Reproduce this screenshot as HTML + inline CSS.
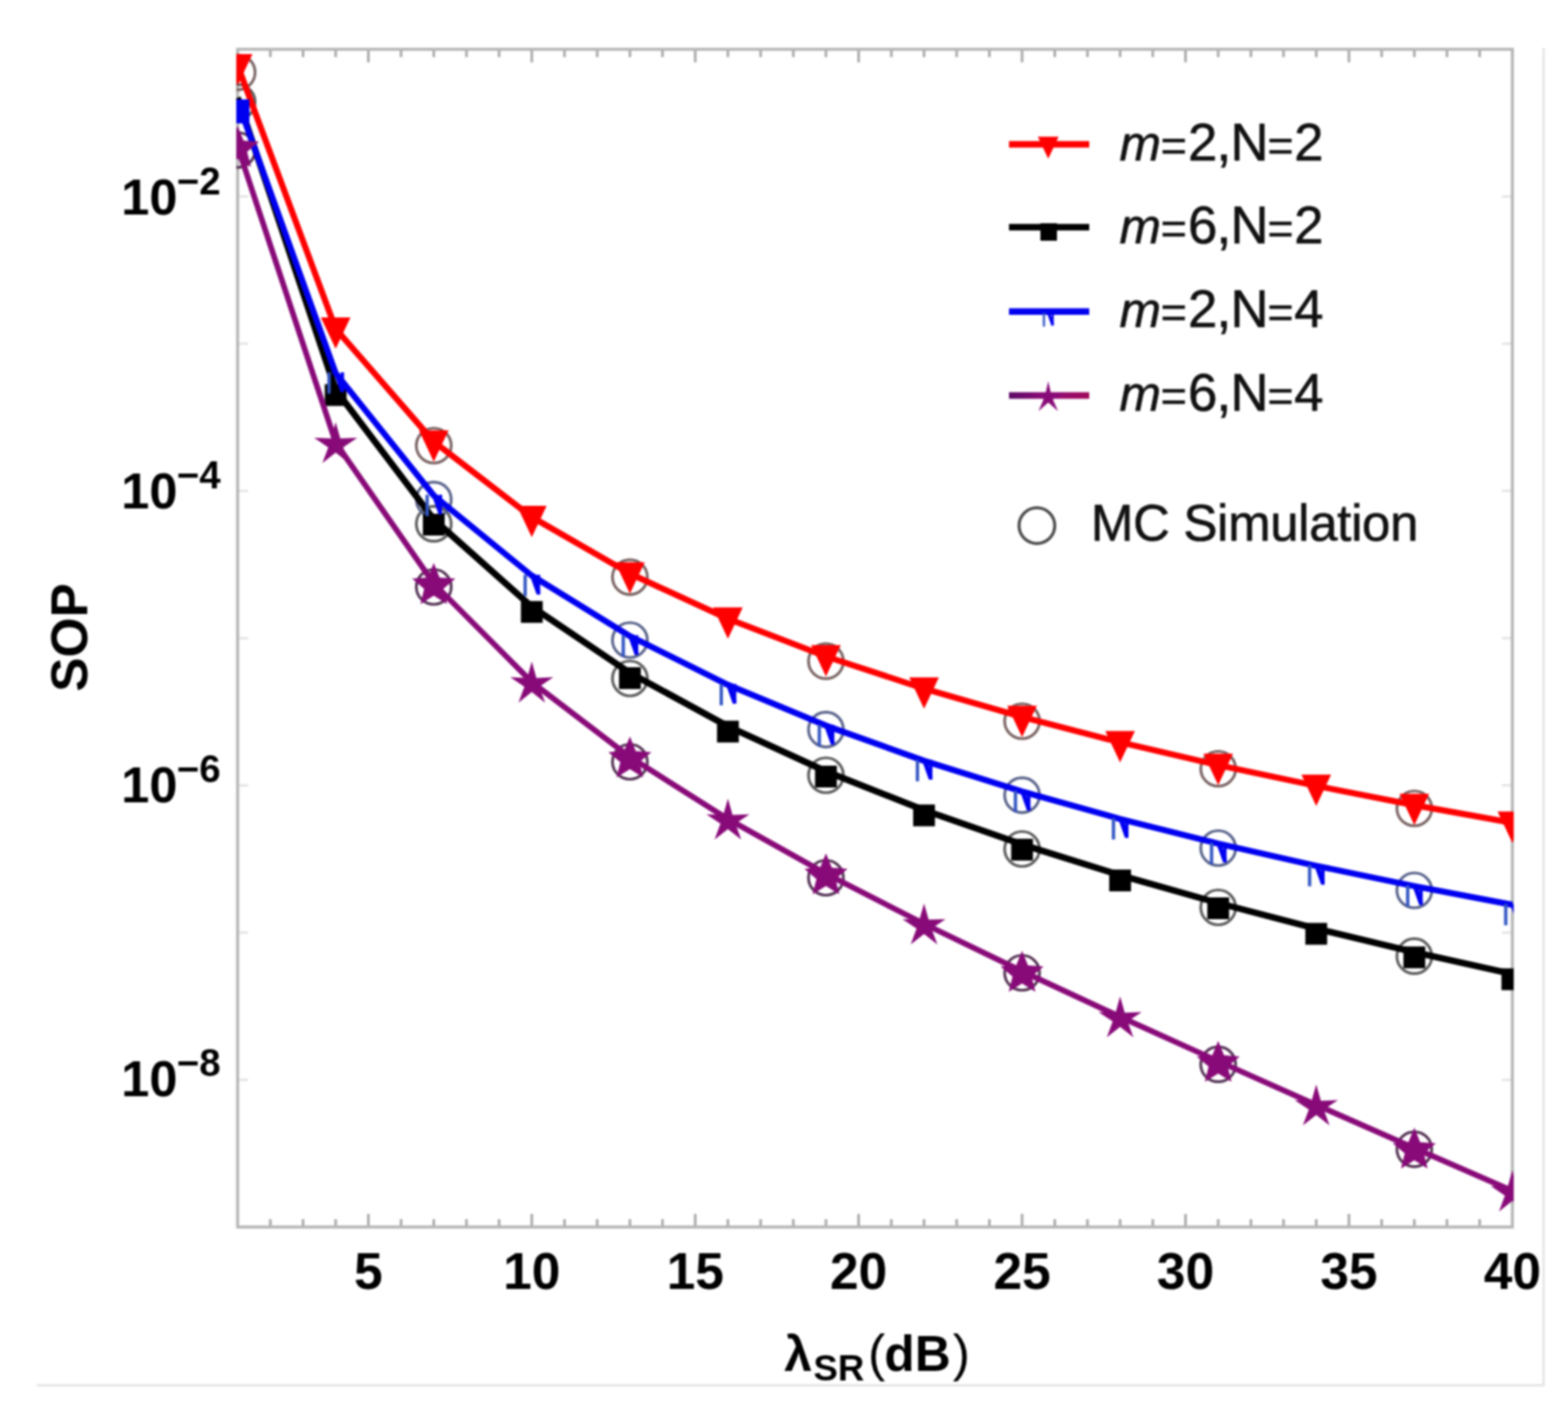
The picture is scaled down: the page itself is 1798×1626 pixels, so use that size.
<!DOCTYPE html><html><head><meta charset="utf-8"><title>SOP vs lambda_SR</title><style>html,body{margin:0;padding:0;background:#fff;}body{width:1798px;height:1626px;overflow:hidden;}svg{display:block;}#w{filter:blur(1px);width:1798px;height:1626px;}text{font-family:"Liberation Sans",Arial,Helvetica,sans-serif;}</style></head><body><div id="w"><svg width="1798" height="1626" viewBox="0 0 1798 1626"><rect width="1798" height="1626" fill="#fff"/><defs><linearGradient id="pg" gradientUnits="userSpaceOnUse" x1="1157" y1="0" x2="1249" y2="0"><stop offset="0" stop-color="#5a0a66"/><stop offset="0.5" stop-color="#930a78"/><stop offset="1" stop-color="#a00a5a"/></linearGradient><clipPath id="pa"><rect x="271.0" y="56.5" width="1464.7" height="1350.5"/></clipPath></defs><g stroke="#e3e3e3" stroke-width="2.5" fill="none"><line x1="42" y1="1588.5" x2="1771" y2="1588.5"/><line x1="1770" y1="55" x2="1770" y2="1589"/></g><g stroke="#a9a9a9" stroke-width="3"><line x1="310.0" y1="1407.0" x2="310.0" y2="1398.0"/><line x1="310.0" y1="56.5" x2="310.0" y2="65.5"/><line x1="347.5" y1="1407.0" x2="347.5" y2="1398.0"/><line x1="347.5" y1="56.5" x2="347.5" y2="65.5"/><line x1="384.9" y1="1407.0" x2="384.9" y2="1398.0"/><line x1="384.9" y1="56.5" x2="384.9" y2="65.5"/><line x1="422.4" y1="1407.0" x2="422.4" y2="1392.0"/><line x1="422.4" y1="56.5" x2="422.4" y2="71.5"/><line x1="459.9" y1="1407.0" x2="459.9" y2="1398.0"/><line x1="459.9" y1="56.5" x2="459.9" y2="65.5"/><line x1="497.4" y1="1407.0" x2="497.4" y2="1398.0"/><line x1="497.4" y1="56.5" x2="497.4" y2="65.5"/><line x1="534.9" y1="1407.0" x2="534.9" y2="1398.0"/><line x1="534.9" y1="56.5" x2="534.9" y2="65.5"/><line x1="572.3" y1="1407.0" x2="572.3" y2="1398.0"/><line x1="572.3" y1="56.5" x2="572.3" y2="65.5"/><line x1="609.8" y1="1407.0" x2="609.8" y2="1392.0"/><line x1="609.8" y1="56.5" x2="609.8" y2="71.5"/><line x1="647.3" y1="1407.0" x2="647.3" y2="1398.0"/><line x1="647.3" y1="56.5" x2="647.3" y2="65.5"/><line x1="684.8" y1="1407.0" x2="684.8" y2="1398.0"/><line x1="684.8" y1="56.5" x2="684.8" y2="65.5"/><line x1="722.3" y1="1407.0" x2="722.3" y2="1398.0"/><line x1="722.3" y1="56.5" x2="722.3" y2="65.5"/><line x1="759.7" y1="1407.0" x2="759.7" y2="1398.0"/><line x1="759.7" y1="56.5" x2="759.7" y2="65.5"/><line x1="797.2" y1="1407.0" x2="797.2" y2="1392.0"/><line x1="797.2" y1="56.5" x2="797.2" y2="71.5"/><line x1="834.7" y1="1407.0" x2="834.7" y2="1398.0"/><line x1="834.7" y1="56.5" x2="834.7" y2="65.5"/><line x1="872.2" y1="1407.0" x2="872.2" y2="1398.0"/><line x1="872.2" y1="56.5" x2="872.2" y2="65.5"/><line x1="909.7" y1="1407.0" x2="909.7" y2="1398.0"/><line x1="909.7" y1="56.5" x2="909.7" y2="65.5"/><line x1="947.1" y1="1407.0" x2="947.1" y2="1398.0"/><line x1="947.1" y1="56.5" x2="947.1" y2="65.5"/><line x1="984.6" y1="1407.0" x2="984.6" y2="1392.0"/><line x1="984.6" y1="56.5" x2="984.6" y2="71.5"/><line x1="1022.1" y1="1407.0" x2="1022.1" y2="1398.0"/><line x1="1022.1" y1="56.5" x2="1022.1" y2="65.5"/><line x1="1059.6" y1="1407.0" x2="1059.6" y2="1398.0"/><line x1="1059.6" y1="56.5" x2="1059.6" y2="65.5"/><line x1="1097.0" y1="1407.0" x2="1097.0" y2="1398.0"/><line x1="1097.0" y1="56.5" x2="1097.0" y2="65.5"/><line x1="1134.5" y1="1407.0" x2="1134.5" y2="1398.0"/><line x1="1134.5" y1="56.5" x2="1134.5" y2="65.5"/><line x1="1172.0" y1="1407.0" x2="1172.0" y2="1392.0"/><line x1="1172.0" y1="56.5" x2="1172.0" y2="71.5"/><line x1="1209.5" y1="1407.0" x2="1209.5" y2="1398.0"/><line x1="1209.5" y1="56.5" x2="1209.5" y2="65.5"/><line x1="1247.0" y1="1407.0" x2="1247.0" y2="1398.0"/><line x1="1247.0" y1="56.5" x2="1247.0" y2="65.5"/><line x1="1284.4" y1="1407.0" x2="1284.4" y2="1398.0"/><line x1="1284.4" y1="56.5" x2="1284.4" y2="65.5"/><line x1="1321.9" y1="1407.0" x2="1321.9" y2="1398.0"/><line x1="1321.9" y1="56.5" x2="1321.9" y2="65.5"/><line x1="1359.4" y1="1407.0" x2="1359.4" y2="1392.0"/><line x1="1359.4" y1="56.5" x2="1359.4" y2="71.5"/><line x1="1396.9" y1="1407.0" x2="1396.9" y2="1398.0"/><line x1="1396.9" y1="56.5" x2="1396.9" y2="65.5"/><line x1="1434.4" y1="1407.0" x2="1434.4" y2="1398.0"/><line x1="1434.4" y1="56.5" x2="1434.4" y2="65.5"/><line x1="1471.8" y1="1407.0" x2="1471.8" y2="1398.0"/><line x1="1471.8" y1="56.5" x2="1471.8" y2="65.5"/><line x1="1509.3" y1="1407.0" x2="1509.3" y2="1398.0"/><line x1="1509.3" y1="56.5" x2="1509.3" y2="65.5"/><line x1="1546.8" y1="1407.0" x2="1546.8" y2="1392.0"/><line x1="1546.8" y1="56.5" x2="1546.8" y2="71.5"/><line x1="1584.3" y1="1407.0" x2="1584.3" y2="1398.0"/><line x1="1584.3" y1="56.5" x2="1584.3" y2="65.5"/><line x1="1621.8" y1="1407.0" x2="1621.8" y2="1398.0"/><line x1="1621.8" y1="56.5" x2="1621.8" y2="65.5"/><line x1="1659.2" y1="1407.0" x2="1659.2" y2="1398.0"/><line x1="1659.2" y1="56.5" x2="1659.2" y2="65.5"/><line x1="1696.7" y1="1407.0" x2="1696.7" y2="1398.0"/><line x1="1696.7" y1="56.5" x2="1696.7" y2="65.5"/></g><g stroke="#e2e2e2" stroke-width="2.5"><line x1="272.5" y1="225.3" x2="284.5" y2="225.3"/><line x1="1734.2" y1="225.3" x2="1722.2" y2="225.3"/><line x1="272.5" y1="394.1" x2="284.5" y2="394.1"/><line x1="1734.2" y1="394.1" x2="1722.2" y2="394.1"/><line x1="272.5" y1="562.9" x2="284.5" y2="562.9"/><line x1="1734.2" y1="562.9" x2="1722.2" y2="562.9"/><line x1="272.5" y1="731.8" x2="284.5" y2="731.8"/><line x1="1734.2" y1="731.8" x2="1722.2" y2="731.8"/><line x1="272.5" y1="900.6" x2="284.5" y2="900.6"/><line x1="1734.2" y1="900.6" x2="1722.2" y2="900.6"/><line x1="272.5" y1="1069.4" x2="284.5" y2="1069.4"/><line x1="1734.2" y1="1069.4" x2="1722.2" y2="1069.4"/><line x1="272.5" y1="1238.2" x2="284.5" y2="1238.2"/><line x1="1734.2" y1="1238.2" x2="1722.2" y2="1238.2"/></g><rect x="272.5" y="56.5" width="1461.7" height="1350.5" fill="none" stroke="#b6b6b6" stroke-width="3.5"/><g clip-path="url(#pa)"><g fill="none" stroke="#7a6262" stroke-width="3.2"><circle cx="272.5" cy="83.0" r="20"/><circle cx="497.4" cy="511.0" r="20"/><circle cx="722.3" cy="661.8" r="20"/><circle cx="947.1" cy="758.2" r="20"/><circle cx="1172.0" cy="827.0" r="20"/><circle cx="1396.9" cy="881.5" r="20"/><circle cx="1621.8" cy="927.0" r="20"/></g><g fill="none" stroke="#5c5c5c" stroke-width="3.2"><circle cx="272.5" cy="117.0" r="20"/><circle cx="497.4" cy="600.7" r="20"/><circle cx="722.3" cy="778.0" r="20"/><circle cx="947.1" cy="889.0" r="20"/><circle cx="1172.0" cy="973.5" r="20"/><circle cx="1396.9" cy="1040.5" r="20"/><circle cx="1621.8" cy="1096.4" r="20"/></g><g fill="none" stroke="#58628a" stroke-width="3.2"><circle cx="497.4" cy="572.8" r="20"/><circle cx="722.3" cy="734.0" r="20"/><circle cx="947.1" cy="836.6" r="20"/><circle cx="1172.0" cy="911.8" r="20"/><circle cx="1396.9" cy="972.5" r="20"/><circle cx="1621.8" cy="1021.0" r="20"/></g><g fill="none" stroke="#553355" stroke-width="3.2"><circle cx="272.5" cy="172.0" r="20"/><circle cx="497.4" cy="673.0" r="20"/><circle cx="722.3" cy="873.5" r="20"/><circle cx="947.1" cy="1006.5" r="20"/><circle cx="1172.0" cy="1115.5" r="20"/><circle cx="1396.9" cy="1220.4" r="20"/><circle cx="1621.8" cy="1317.8" r="20"/></g><path d="M272.5,75.0 L384.9,377.0 L497.4,506.4 L609.8,592.9 L722.3,657.7 L834.7,709.5 L947.1,752.7 L1059.6,789.7 L1172.0,822.2 L1284.4,851.2 L1396.9,877.3 L1509.3,901.2 L1621.8,923.2 L1734.2,943.5" fill="none" stroke="#ff0000" stroke-width="7" stroke-linejoin="round"/><g fill="#ff0000"><polygon points="255.5,62.0 289.5,62.0 272.5,98.0"/><polygon points="367.9,364.0 401.9,364.0 384.9,400.0"/><polygon points="480.4,493.4 514.4,493.4 497.4,529.4"/><polygon points="592.8,579.9 626.8,579.9 609.8,615.9"/><polygon points="705.3,644.7 739.3,644.7 722.3,680.7"/><polygon points="817.7,696.5 851.7,696.5 834.7,732.5"/><polygon points="930.1,739.7 964.1,739.7 947.1,775.7"/><polygon points="1042.6,776.7 1076.6,776.7 1059.6,812.7"/><polygon points="1155.0,809.2 1189.0,809.2 1172.0,845.2"/><polygon points="1267.4,838.2 1301.4,838.2 1284.4,874.2"/><polygon points="1379.9,864.3 1413.9,864.3 1396.9,900.3"/><polygon points="1492.3,888.2 1526.3,888.2 1509.3,924.2"/><polygon points="1604.8,910.2 1638.8,910.2 1621.8,946.2"/><polygon points="1717.2,930.5 1751.2,930.5 1734.2,966.5"/></g><path d="M272.5,112.0 L384.9,447.0 L497.4,595.6 L609.8,695.7 L722.3,771.6 L834.7,832.9 L947.1,884.5 L1059.6,929.0 L1172.0,968.3 L1284.4,1003.6 L1396.9,1035.5 L1509.3,1064.8 L1621.8,1091.8 L1734.2,1116.9" fill="none" stroke="#000000" stroke-width="7.5" stroke-linejoin="round"/><g fill="#000000"><rect x="372.4" y="440.5" width="25.0" height="25.0"/><rect x="484.9" y="589.1" width="25.0" height="25.0"/><rect x="597.3" y="689.2" width="25.0" height="25.0"/><rect x="709.8" y="765.1" width="25.0" height="25.0"/><rect x="822.2" y="826.4" width="25.0" height="25.0"/><rect x="934.6" y="878.0" width="25.0" height="25.0"/><rect x="1047.1" y="922.5" width="25.0" height="25.0"/><rect x="1159.5" y="961.8" width="25.0" height="25.0"/><rect x="1271.9" y="997.1" width="25.0" height="25.0"/><rect x="1384.4" y="1029.0" width="25.0" height="25.0"/><rect x="1496.8" y="1058.3" width="25.0" height="25.0"/><rect x="1609.3" y="1085.3" width="25.0" height="25.0"/><rect x="1721.7" y="1110.4" width="25.0" height="25.0"/></g><path d="M272.5,116.0 L384.9,427.9 L497.4,568.3 L609.8,660.1 L722.3,729.4 L834.7,785.3 L947.1,832.1 L1059.6,872.4 L1172.0,907.7 L1284.4,939.1 L1396.9,967.3 L1509.3,992.8 L1621.8,1016.1 L1734.2,1037.5" fill="none" stroke="#0000f0" stroke-width="7" stroke-linejoin="round"/><g fill="#0000f0"><rect x="271" y="114" width="15" height="27.5"/><rect x="375.4" y="426.9" width="3.8" height="24.5" fill="#3356c4"/><polygon points="382.4,426.9 387.9,426.9 394.4,444.9 394.4,449.4 390.4,449.4"/><rect x="390.7" y="426.9" width="3.8" height="22.5"/><rect x="487.9" y="567.3" width="3.8" height="24.5" fill="#3356c4"/><polygon points="494.9,567.3 500.4,567.3 506.9,585.3 506.9,589.8 502.9,589.8"/><rect x="503.2" y="567.3" width="3.8" height="22.5"/><rect x="600.3" y="659.1" width="3.8" height="24.5" fill="#3356c4"/><polygon points="607.3,659.1 612.8,659.1 619.3,677.1 619.3,681.6 615.3,681.6"/><rect x="615.6" y="659.1" width="3.8" height="22.5"/><rect x="712.8" y="728.4" width="3.8" height="24.5" fill="#3356c4"/><polygon points="719.8,728.4 725.3,728.4 731.8,746.4 731.8,750.9 727.8,750.9"/><rect x="728.1" y="728.4" width="3.8" height="22.5"/><rect x="825.2" y="784.3" width="3.8" height="24.5" fill="#3356c4"/><polygon points="832.2,784.3 837.7,784.3 844.2,802.3 844.2,806.8 840.2,806.8"/><rect x="840.5" y="784.3" width="3.8" height="22.5"/><rect x="937.6" y="831.1" width="3.8" height="24.5" fill="#3356c4"/><polygon points="944.6,831.1 950.1,831.1 956.6,849.1 956.6,853.6 952.6,853.6"/><rect x="952.9" y="831.1" width="3.8" height="22.5"/><rect x="1050.1" y="871.4" width="3.8" height="24.5" fill="#3356c4"/><polygon points="1057.1,871.4 1062.6,871.4 1069.1,889.4 1069.1,893.9 1065.1,893.9"/><rect x="1065.4" y="871.4" width="3.8" height="22.5"/><rect x="1162.5" y="906.7" width="3.8" height="24.5" fill="#3356c4"/><polygon points="1169.5,906.7 1175.0,906.7 1181.5,924.7 1181.5,929.2 1177.5,929.2"/><rect x="1177.8" y="906.7" width="3.8" height="22.5"/><rect x="1274.9" y="938.1" width="3.8" height="24.5" fill="#3356c4"/><polygon points="1281.9,938.1 1287.4,938.1 1293.9,956.1 1293.9,960.6 1289.9,960.6"/><rect x="1290.2" y="938.1" width="3.8" height="22.5"/><rect x="1387.4" y="966.3" width="3.8" height="24.5" fill="#3356c4"/><polygon points="1394.4,966.3 1399.9,966.3 1406.4,984.3 1406.4,988.8 1402.4,988.8"/><rect x="1402.7" y="966.3" width="3.8" height="22.5"/><rect x="1499.8" y="991.8" width="3.8" height="24.5" fill="#3356c4"/><polygon points="1506.8,991.8 1512.3,991.8 1518.8,1009.8 1518.8,1014.3 1514.8,1014.3"/><rect x="1515.1" y="991.8" width="3.8" height="22.5"/><rect x="1612.3" y="1015.1" width="3.8" height="24.5" fill="#3356c4"/><polygon points="1619.3,1015.1 1624.8,1015.1 1631.3,1033.1 1631.3,1037.6 1627.3,1037.6"/><rect x="1627.6" y="1015.1" width="3.8" height="22.5"/><rect x="1724.7" y="1036.5" width="3.8" height="24.5" fill="#3356c4"/><polygon points="1731.7,1036.5 1737.2,1036.5 1743.7,1054.5 1743.7,1059.0 1739.7,1059.0"/><rect x="1740.0" y="1036.5" width="3.8" height="22.5"/></g><path d="M272.5,168.0 L384.9,507.6 L497.4,669.1 L609.8,782.1 L722.3,868.1 L834.7,939.2 L947.1,1001.9 L1059.6,1059.4 L1172.0,1113.7 L1284.4,1166.0 L1396.9,1216.9 L1509.3,1267.0 L1621.8,1316.5 L1734.2,1365.6" fill="none" stroke="#880a78" stroke-width="6.5" stroke-linejoin="round"/><g fill="#880a78"><polygon points="272.5,144.5 279.3,161.2 297.2,162.5 283.4,174.1 287.8,191.5 272.5,182.0 257.2,191.5 261.6,174.1 247.8,162.5 265.7,161.2"/><polygon points="384.9,484.1 390.2,502.8 409.7,502.1 393.5,512.9 400.2,531.1 384.9,519.1 369.7,531.1 376.4,512.9 360.2,502.1 379.6,502.8"/><polygon points="497.4,645.6 504.1,662.3 522.1,663.6 508.3,675.2 512.7,692.7 497.4,683.1 482.1,692.7 486.4,675.2 472.6,663.6 490.6,662.3"/><polygon points="609.8,758.6 615.1,777.4 634.5,776.6 618.4,787.4 625.1,805.7 609.8,793.6 594.5,805.7 601.3,787.4 585.1,776.6 604.5,777.4"/><polygon points="722.3,844.6 729.0,861.3 747.0,862.5 733.2,874.1 737.5,891.6 722.3,882.1 707.0,891.6 711.3,874.1 697.5,862.5 715.5,861.3"/><polygon points="834.7,915.7 840.0,934.5 859.4,933.7 843.3,944.5 850.0,962.8 834.7,950.7 819.4,962.8 826.1,944.5 810.0,933.7 829.4,934.5"/><polygon points="947.1,978.4 953.9,995.1 971.9,996.3 958.1,1007.9 962.4,1025.4 947.1,1015.9 931.8,1025.4 936.2,1007.9 922.4,996.3 940.4,995.1"/><polygon points="1059.6,1035.9 1064.9,1054.6 1084.3,1053.9 1068.1,1064.7 1074.9,1082.9 1059.6,1070.9 1044.3,1082.9 1051.0,1064.7 1034.8,1053.9 1054.3,1054.6"/><polygon points="1172.0,1090.2 1178.8,1106.9 1196.7,1108.2 1182.9,1119.8 1187.3,1137.2 1172.0,1127.7 1156.7,1137.2 1161.1,1119.8 1147.3,1108.2 1165.2,1106.9"/><polygon points="1284.4,1142.5 1289.7,1161.2 1309.2,1160.4 1293.0,1171.3 1299.7,1189.5 1284.4,1177.5 1269.2,1189.5 1275.9,1171.3 1259.7,1160.4 1279.2,1161.2"/><polygon points="1396.9,1193.4 1403.6,1210.1 1421.6,1211.4 1407.8,1223.0 1412.2,1240.5 1396.9,1230.9 1381.6,1240.5 1385.9,1223.0 1372.2,1211.4 1390.1,1210.1"/><polygon points="1509.3,1243.5 1514.6,1262.2 1534.1,1261.5 1517.9,1272.3 1524.6,1290.5 1509.3,1278.5 1494.0,1290.5 1500.8,1272.3 1484.6,1261.5 1504.0,1262.2"/><polygon points="1621.8,1293.0 1628.5,1309.7 1646.5,1311.0 1632.7,1322.6 1637.0,1340.0 1621.8,1330.5 1606.5,1340.0 1610.8,1322.6 1597.0,1311.0 1615.0,1309.7"/><polygon points="1734.2,1342.1 1739.5,1360.8 1758.9,1360.1 1742.8,1370.9 1749.5,1389.2 1734.2,1377.1 1718.9,1389.2 1725.6,1370.9 1709.5,1360.1 1728.9,1360.8"/></g></g><line x1="1157" y1="165.6" x2="1249" y2="165.6" stroke="#ff0000" stroke-width="7.5"/><g fill="#ff0000"><polygon points="1190.1,156.7 1213.9,156.7 1202.0,181.9"/></g><text y="184.0" font-size="60.5" fill="#111" stroke="#111" stroke-width="0.7"><tspan x="1283.65" font-size="57" font-style="italic">m</tspan><tspan x="1331" dy="1" font-size="51">=</tspan><tspan x="1362.35" dy="-1">2</tspan><tspan x="1394.9">,</tspan><tspan x="1410.9">N</tspan><tspan x="1453.5" dy="1" font-size="51">=</tspan><tspan x="1484.1" dy="-1">2</tspan></text><line x1="1157" y1="260.6" x2="1249" y2="260.6" stroke="#000000" stroke-width="7.5"/><rect x="1193" y="256" width="19" height="20" fill="#000"/><text y="278.7" font-size="60.5" fill="#111" stroke="#111" stroke-width="0.7"><tspan x="1283.65" font-size="57" font-style="italic">m</tspan><tspan x="1331" dy="1" font-size="51">=</tspan><tspan x="1362.35" dy="-1">6</tspan><tspan x="1394.9">,</tspan><tspan x="1410.9">N</tspan><tspan x="1453.5" dy="1" font-size="51">=</tspan><tspan x="1484.1" dy="-1">2</tspan></text><line x1="1157" y1="357.2" x2="1249" y2="357.2" stroke="#0000f0" stroke-width="7.5"/><g fill="#0000f0"><rect x="1195.8" y="358.6" width="2.5" height="15.9" fill="#3356c4"/><polygon points="1200.4,358.6 1204.0,358.6 1208.2,370.2 1208.2,373.2 1205.6,373.2"/><rect x="1205.8" y="358.6" width="2.5" height="14.6"/></g><text y="375.2" font-size="60.5" fill="#111" stroke="#111" stroke-width="0.7"><tspan x="1283.65" font-size="57" font-style="italic">m</tspan><tspan x="1331" dy="1" font-size="51">=</tspan><tspan x="1362.35" dy="-1">2</tspan><tspan x="1394.9">,</tspan><tspan x="1410.9">N</tspan><tspan x="1453.5" dy="1" font-size="51">=</tspan><tspan x="1484.1" dy="-1">4</tspan></text><line x1="1157" y1="453.5" x2="1249" y2="453.5" stroke="url(#pg)" stroke-width="7.5"/><g fill="#880a78"><polygon points="1202.0,437.0 1205.2,451.6 1220.1,450.1 1207.2,457.7 1213.2,471.4 1202.0,461.5 1190.8,471.4 1196.8,457.7 1183.9,450.1 1198.8,451.6"/></g><text y="471.0" font-size="60.5" fill="#111" stroke="#111" stroke-width="0.7"><tspan x="1283.65" font-size="57" font-style="italic">m</tspan><tspan x="1331" dy="1" font-size="51">=</tspan><tspan x="1362.35" dy="-1">6</tspan><tspan x="1394.9">,</tspan><tspan x="1410.9">N</tspan><tspan x="1453.5" dy="1" font-size="51">=</tspan><tspan x="1484.1" dy="-1">4</tspan></text><circle cx="1189" cy="602.8" r="20.5" fill="none" stroke="#4a4a4a" stroke-width="3.5"/><text x="1250.9" y="619.5" font-size="58.5" letter-spacing="-0.4" fill="#111" stroke="#111" stroke-width="0.7">MC Simulation</text><text x="139" y="246.0" font-size="58" font-weight="bold" fill="#000">10</text><text x="202.7" y="222.7" font-size="44" font-weight="bold" fill="#000">&#8722;2</text><text x="139" y="583.1" font-size="58" font-weight="bold" fill="#000">10</text><text x="202.7" y="559.8" font-size="44" font-weight="bold" fill="#000">&#8722;4</text><text x="139" y="920.2" font-size="58" font-weight="bold" fill="#000">10</text><text x="202.7" y="896.9" font-size="44" font-weight="bold" fill="#000">&#8722;6</text><text x="139" y="1257.3" font-size="58" font-weight="bold" fill="#000">10</text><text x="202.7" y="1234.0" font-size="44" font-weight="bold" fill="#000">&#8722;8</text><text x="422.4" y="1477.5" font-size="59" font-weight="bold" text-anchor="middle" fill="#000">5</text><text x="609.8" y="1477.5" font-size="59" font-weight="bold" text-anchor="middle" fill="#000">10</text><text x="797.2" y="1477.5" font-size="59" font-weight="bold" text-anchor="middle" fill="#000">15</text><text x="984.6" y="1477.5" font-size="59" font-weight="bold" text-anchor="middle" fill="#000">20</text><text x="1172.0" y="1477.5" font-size="59" font-weight="bold" text-anchor="middle" fill="#000">25</text><text x="1359.4" y="1477.5" font-size="59" font-weight="bold" text-anchor="middle" fill="#000">30</text><text x="1546.8" y="1477.5" font-size="59" font-weight="bold" text-anchor="middle" fill="#000">35</text><text x="1734.2" y="1477.5" font-size="59" font-weight="bold" text-anchor="middle" fill="#000">40</text><text transform="translate(100.3,731) rotate(-90)" font-size="59" font-weight="bold" text-anchor="middle" fill="#000">SOP</text><text x="899.2" y="1572.3" font-size="57" font-weight="bold" fill="#000">&#955;</text><text x="932.8" y="1583" font-size="42" font-weight="bold" fill="#000">SR</text><text x="995.3" y="1572.3" font-size="59.5" fill="#000">(</text><text x="1014.1" y="1572.3" font-size="57" font-weight="bold" fill="#000">dB</text><text x="1092.6" y="1572.3" font-size="59.5" fill="#000">)</text></svg></div></body></html>
